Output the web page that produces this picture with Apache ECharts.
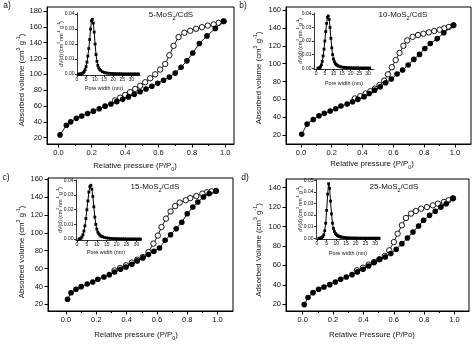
<!DOCTYPE html>
<html>
<head>
<meta charset="utf-8">
<script src="https://cdn.jsdelivr.net/npm/echarts@6/dist/echarts.min.js"></script>
<style>
  html, body { margin: 0; padding: 0; background: #fff; }
  #chart { width: 474px; height: 345px; }
</style>
</head>
<body>
<div id="chart"></div>
<script>
// N2 isotherms: [relative pressure, volume] for adsorption (filled) and desorption (open)
const adsA = [[0.01,23.5],[0.048,35.6],[0.074,40],[0.108,44.4],[0.14,47.4],[0.175,50.5],[0.21,53.5],[0.245,56.5],[0.28,59.8],[0.315,62.5],[0.35,65.5],[0.385,68.4],[0.42,71.5],[0.455,74.7],[0.49,78],[0.525,81.5],[0.56,85],[0.595,88.6],[0.63,92.5],[0.665,96.5],[0.70,101.5],[0.735,109],[0.77,117],[0.805,127],[0.845,139],[0.89,148.5],[0.94,158],[0.99,167]];
const desA = [[0.99,167],[0.96,165],[0.93,163],[0.895,161.5],[0.86,159.5],[0.825,157.5],[0.79,155],[0.755,152.5],[0.72,147],[0.69,136],[0.665,124],[0.64,113],[0.61,106],[0.58,100],[0.55,95],[0.52,90],[0.49,85.5],[0.46,81.5],[0.43,77.5],[0.40,74],[0.37,70.5],[0.34,67]];

const adsB = [[0.005,21],[0.04,32.3],[0.08,37.5],[0.117,41.6],[0.152,44.3],[0.19,46.9],[0.226,49.5],[0.26,52.5],[0.30,54.7],[0.335,57.3],[0.37,60],[0.41,63],[0.443,66.6],[0.478,70.3],[0.515,74],[0.55,78.6],[0.587,82.7],[0.624,88.3],[0.66,92.8],[0.696,98.4],[0.733,104.7],[0.77,110.3],[0.804,117],[0.84,122.6],[0.885,128],[0.928,134.5],[0.99,143]];
const desB = [[0.99,143],[0.96,141],[0.93,139.5],[0.90,138],[0.865,136.5],[0.83,135],[0.795,133.5],[0.76,132],[0.725,130],[0.69,126],[0.665,120],[0.64,112],[0.615,104],[0.59,96],[0.565,88],[0.54,81],[0.51,76],[0.48,72],[0.45,69],[0.42,66.5],[0.385,63.5],[0.35,61]];

const adsC = [[0.01,25.6],[0.033,33],[0.066,36.8],[0.10,39.8],[0.14,42.8],[0.176,45],[0.21,48],[0.25,50.6],[0.286,53.2],[0.32,56.2],[0.36,59.2],[0.396,61.8],[0.434,64.8],[0.47,68.6],[0.507,72],[0.544,75.7],[0.58,79.4],[0.617,83],[0.654,91.7],[0.69,98],[0.727,104.7],[0.764,112],[0.80,121.5],[0.837,129],[0.87,134.6],[0.907,140.2],[0.945,144],[0.99,147]];
const desC = [[0.99,147],[0.96,146.5],[0.93,145.5],[0.90,144],[0.86,141.3],[0.82,139],[0.79,136.6],[0.75,134],[0.72,130],[0.69,124],[0.66,116],[0.63,106.6],[0.606,97],[0.577,88],[0.544,78.5],[0.507,73],[0.47,70],[0.434,66.7],[0.396,63.7],[0.357,60.7],[0.32,58]];

const adsD = [[0.01,19.7],[0.035,27],[0.068,32],[0.105,35.4],[0.14,37.8],[0.178,40.2],[0.215,43],[0.25,45.7],[0.287,48.1],[0.325,50.5],[0.36,53.3],[0.397,56],[0.434,59.4],[0.47,62.9],[0.507,66.3],[0.544,68.7],[0.58,72.2],[0.616,76.6],[0.653,82.4],[0.69,88.2],[0.726,94.4],[0.763,100.6],[0.796,106.4],[0.835,111.5],[0.873,115.7],[0.91,120],[0.945,123.5],[0.99,129]];
const desD = [[0.99,129],[0.96,127],[0.93,125.3],[0.89,123.5],[0.857,121.8],[0.818,120],[0.78,118.4],[0.745,116],[0.713,113.3],[0.68,108.8],[0.653,101.3],[0.625,92.7],[0.60,84],[0.57,75.5],[0.54,69.7],[0.504,66.3],[0.47,63.5],[0.434,60.8],[0.397,57.7],[0.357,55]];

// Pore size distributions (pore width in nm, dV(d))
const poreWidth = [1,1.5,2,2.5,3,3.5,4,4.5,5,5.5,6,6.5,7,7.5,8,8.5,9,9.5,10,10.5,11,11.5,12,12.5,13,14,15,16,17,18,19,20,21,22,23,24,25,26,27,28,29,30,31,32,33,34];
const dvA = [0,0,0,0.0002,0.0005,0.001,0.0018,0.003,0.005,0.008,0.012,0.017,0.023,0.030,0.0355,0.0365,0.034,0.028,0.020,0.013,0.0085,0.0058,0.0042,0.0032,0.0025,0.0016,0.0011,0.0008,0.0006,0.0005,0.0004,0.0003,0.0003,0.0002,0.0002,0.0002,0.0001,0.0001,0.0001,0.0001,0.0001,0.0001,0.0001,0.0001,0.0001,0.0001];
const dvB = [0,0,0.0003,0.001,0.0025,0.005,0.009,0.014,0.020,0.027,0.033,0.0375,0.0385,0.036,0.030,0.022,0.015,0.010,0.0068,0.0048,0.0036,0.0028,0.0022,0.0018,0.0015,0.0011,0.0008,0.0006,0.0005,0.0004,0.0003,0.0003,0.0002,0.0002,0.0002,0.0002,0.0001,0.0001,0.0001,0.0001,0.0001,0.0001,0.0001];
const dvC = [0,0.0002,0.0006,0.0015,0.003,0.0055,0.009,0.014,0.020,0.026,0.032,0.0358,0.0366,0.034,0.029,0.022,0.015,0.010,0.0068,0.0048,0.0036,0.0028,0.0022,0.0018,0.0015,0.0011,0.0008,0.0006,0.0005,0.0004,0.0003,0.0003,0.0002,0.0002,0.0002,0.0002,0.0001,0.0001,0.0001,0.0001,0.0001,0.0001,0.0001,0.0001];
const dvD = [0,0,0.0002,0.0006,0.0015,0.003,0.0065,0.013,0.024,0.038,0.047,0.043,0.032,0.021,0.013,0.0085,0.0058,0.0042,0.0032,0.0025,0.002,0.0016,0.0013,0.0011,0.0009,0.0007,0.0005,0.0004,0.0003,0.0003,0.0002,0.0002,0.0002,0.0001,0.0001,0.0001,0.0001,0.0001,0.0001,0.0001,0.0001,0.0001,0.0001,0.0001];

// Tick values
const pressureTicks = [0, 0.2, 0.4, 0.6, 0.8, 1.0];
const pressureMinorTicks = [0.1, 0.3, 0.5, 0.7, 0.9];
const volumeTicks160 = [20, 40, 60, 80, 100, 120, 140, 160];
const volumeTicks180 = [20, 40, 60, 80, 100, 120, 140, 160, 180];
const volumeTicks140 = [20, 40, 60, 80, 100, 120, 140];
const widthTicks = [0, 5, 10, 15, 20, 25, 30];
const dvTicks4 = [0, 0.01, 0.02, 0.03, 0.04];
const dvTicks5 = [0, 0.01, 0.02, 0.03, 0.04, 0.05];

// Text
const panelLetters = ['a)', 'b)', 'c)', 'd)'];
const sampleNames = ['5', '10', '15', '25'];

const FONT = '"Liberation Sans", Arial, Helvetica, sans-serif';
const INK = '#111';

const panels = [
  { grid: {left: 47, top: 7, width: 187, height: 137}, x: [-0.068, 1.052], y: [12, 185], yTicks: volumeTicks180,
    ads: adsA, des: desA,
    inset: {left: 77, top: 13, width: 63, height: 62}, ix: [0, 34.8], iy: [-0.0006, 0.0407], iyTicks: dvTicks4, dv: dvA },
  { grid: {left: 286, top: 7, width: 185, height: 137}, x: [-0.097, 1.104], y: [10, 163.4], yTicks: volumeTicks160,
    ads: adsB, des: desB,
    inset: {left: 314, top: 13, width: 60, height: 56}, ix: [-1.3, 33.5], iy: [-0.0006, 0.0407], iyTicks: dvTicks4, dv: dvB },
  { grid: {left: 48, top: 178, width: 185, height: 133}, x: [-0.119, 1.102], y: [12.5, 161.5], yTicks: volumeTicks160,
    ads: adsC, des: desC,
    inset: {left: 76, top: 180, width: 65, height: 60}, ix: [-0.5, 32.3], iy: [-0.0006, 0.0402], iyTicks: dvTicks4, dv: dvC },
  { grid: {left: 286, top: 179, width: 183, height: 132}, x: [-0.11, 1.095], y: [13.1, 148.9], yTicks: volumeTicks140,
    ads: adsD, des: desD,
    inset: {left: 316, top: 180, width: 64, height: 59}, ix: [-0.5, 32.5], iy: [-0.0006, 0.0502], iyTicks: dvTicks5, dv: dvD }
];

const grids = [], xAxes = [], yAxes = [], series = [];
const line = {color: '#000', width: 1};

panels.forEach((p, i) => {
  // main isotherm plot
  const g = grids.length;
  grids.push(Object.assign({show: true, borderColor: '#000', borderWidth: 1, containLabel: false}, p.grid));
  const xi = xAxes.length;
  xAxes.push({
    gridIndex: g, type: 'value', min: p.x[0], max: p.x[1], position: 'bottom',
    axisLine: {show: true, onZero: false, lineStyle: line},
    axisTick: {show: true, inside: false, length: 3.5, customValues: pressureTicks, lineStyle: line},
    axisLabel: {customValues: pressureTicks, formatter: v => v.toFixed(1), margin: 5, fontSize: 7.5, color: INK, fontFamily: FONT},
    splitLine: {show: false}
  });
  xAxes.push({
    gridIndex: g, type: 'value', min: p.x[0], max: p.x[1], position: 'bottom',
    axisLine: {show: false, onZero: false},
    axisTick: {show: true, inside: false, length: 2, customValues: pressureMinorTicks, lineStyle: line},
    axisLabel: {show: false}, splitLine: {show: false}
  });
  const yi = yAxes.length;
  yAxes.push({
    gridIndex: g, type: 'value', min: p.y[0], max: p.y[1], position: 'left',
    axisLine: {show: true, onZero: false, lineStyle: line},
    axisTick: {show: true, inside: false, length: 3.5, customValues: p.yTicks, lineStyle: line},
    axisLabel: {customValues: p.yTicks, margin: 5, fontSize: 7.5, color: INK, fontFamily: FONT},
    splitLine: {show: false}
  });
  series.push({
    type: 'line', xAxisIndex: xi, yAxisIndex: yi, data: p.des, symbol: 'circle', symbolSize: 5.4,
    itemStyle: {color: '#fff', borderColor: '#000', borderWidth: 0.9}, lineStyle: {color: '#000', width: 0.9},
    z: 3, animation: false
  });
  series.push({
    type: 'line', xAxisIndex: xi, yAxisIndex: yi, data: p.ads, symbol: 'circle', symbolSize: 5.6,
    itemStyle: {color: '#000'}, lineStyle: {color: '#000', width: 0.9},
    z: 4, animation: false
  });

  // inset pore size distribution (left and bottom axes only)
  const gi = grids.length;
  grids.push(Object.assign({show: false}, p.inset));
  const ixi = xAxes.length;
  xAxes.push({
    gridIndex: gi, type: 'value', min: p.ix[0], max: p.ix[1], position: 'bottom', z: 6,
    axisLine: {show: true, onZero: false, lineStyle: {color: '#000', width: 0.8}},
    axisTick: {show: true, inside: false, length: 2, customValues: widthTicks, lineStyle: {color: '#000', width: 0.8}},
    axisLabel: {customValues: widthTicks, margin: 2.5, fontSize: 5, color: INK, fontFamily: FONT},
    splitLine: {show: false}
  });
  const iyi = yAxes.length;
  yAxes.push({
    gridIndex: gi, type: 'value', min: p.iy[0], max: p.iy[1], position: 'left', z: 6,
    axisLine: {show: true, onZero: false, lineStyle: {color: '#000', width: 0.8}},
    axisTick: {show: true, inside: false, length: 2, customValues: p.iyTicks, lineStyle: {color: '#000', width: 0.8}},
    axisLabel: {customValues: p.iyTicks, formatter: v => v.toFixed(2), margin: 2.5, fontSize: 5, color: INK, fontFamily: FONT},
    splitLine: {show: false}
  });
  series.push({
    type: 'line', xAxisIndex: ixi, yAxisIndex: iyi, z: 7,
    data: p.dv.map((v, k) => [poreWidth[k], v]),
    symbol: 'rect', symbolSize: 2.8, itemStyle: {color: '#000'}, lineStyle: {color: '#000', width: 1},
    animation: false
  });
});

// rich text styles for sub/superscripts
function rich(size) {
  const small = Math.round(size * 0.68 * 10) / 10;
  const lh = size + 4;
  return {
    n: {fontSize: size, fontFamily: FONT, color: INK, lineHeight: lh},
    p: {fontSize: small, fontFamily: FONT, color: INK, lineHeight: small + 1, verticalAlign: 'top'},
    b: {fontSize: small, fontFamily: FONT, color: INK, lineHeight: small + 1, verticalAlign: 'bottom'}
  };
}
function label(text, x, y, size, rotate) {
  return {
    type: 'text', x: x, y: y, rotation: rotate ? Math.PI / 2 : 0, z: 20,
    style: {text: text, rich: rich(size), align: 'center', verticalAlign: 'middle', fill: INK, font: size + 'px ' + FONT}
  };
}

const volTitle = '{n|Absorbed volume (cm}{p|3}{n| g}{p|-1}{n|)}';
const volTitleD = '{n|Adsorbed Volume (cm}{p|3}{n| g}{p|-1}{n|)}';
const presTitle = '{n|Relative pressure (P/P}{b|0}{n|)}';
const presTitleD = '{n|Relative Pressure (P/Po)}';
const poreTitle = '{n|Pore width (nm)}';
const dvTitle = '{n|dV(d) (cm}{p|3}{n| nm}{p|-1}{n| g}{p|-1}{n|)}';
const nameText = s => '{n|' + s + '-MoS}{b|2}{n|/CdS}';

const graphic = [
  // panel letters
  label('{n|' + panelLetters[0] + '}', 7, 6, 8.5),
  label('{n|' + panelLetters[1] + '}', 243, 6, 8.5),
  label('{n|' + panelLetters[2] + '}', 6, 178, 8.5),
  label('{n|' + panelLetters[3] + '}', 245, 178, 8.5),
  // sample names
  label(nameText(sampleNames[0]), 171, 15, 8),
  label(nameText(sampleNames[1]), 403, 15, 8),
  label(nameText(sampleNames[2]), 155, 187, 8),
  label(nameText(sampleNames[3]), 394, 187, 8),
  // main axis titles
  label(presTitle, 135, 166, 7.8),
  label(presTitle, 372, 164, 7.8),
  label(presTitle, 136, 335, 7.8),
  label(presTitleD, 372, 335, 7.8),
  label(volTitle, 22, 80, 7.8, true),
  label(volTitle, 259, 78, 7.8, true),
  label(volTitle, 22, 252, 7.8, true),
  label(volTitleD, 259, 250, 7.8, true),
  // inset axis titles
  label(poreTitle, 104, 89, 5.4),
  label(poreTitle, 344, 84, 5.4),
  label(poreTitle, 106, 253, 5.4),
  label(poreTitle, 348, 254, 5.4),
  label(dvTitle, 62, 44, 5.2, true),
  label(dvTitle, 301, 41, 5.2, true),
  label(dvTitle, 61, 210, 5.2, true),
  label(dvTitle, 301, 209, 5.2, true)
];

const chart = echarts.init(document.getElementById('chart'), null, {renderer: 'canvas'});
chart.setOption({
  backgroundColor: '#fff',
  animation: false,
  grid: grids,
  xAxis: xAxes,
  yAxis: yAxes,
  series: series,
  graphic: graphic
});
</script>
</body>
</html>
